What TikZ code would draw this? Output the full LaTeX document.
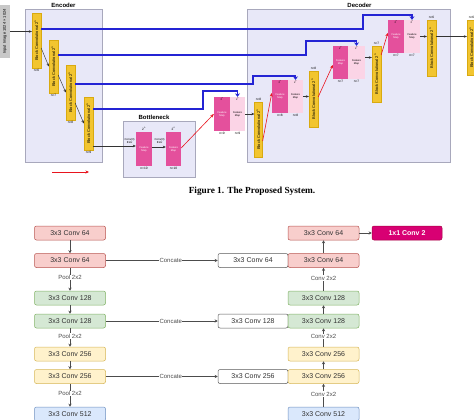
\documentclass[tikz,border=0pt]{standalone}
\usepackage{fontspec}
\setmainfont{Liberation Sans}
\newfontfamily\capfont{Liberation Serif}
\usepackage{xcolor}
\usetikzlibrary{arrows.meta}
\usetikzlibrary{shapes,arrows,positioning}

\definecolor{panelfill}{HTML}{E8E8F8}
\definecolor{panelline}{HTML}{A8A8BC}
\definecolor{blockfill}{HTML}{F2C530}
\definecolor{blockline}{HTML}{D9AA10}
\definecolor{fmdark}{HTML}{E4509C}
\definecolor{fmlight}{HTML}{FBD4E6}
\definecolor{skipblue}{HTML}{2424D4}
\definecolor{flowred}{HTML}{E8141E}
\definecolor{inputgray}{HTML}{C8C8C8}
\definecolor{redfill}{HTML}{F8CECC}
\definecolor{redline}{HTML}{B85450}
\definecolor{greenfill}{HTML}{D5E8D4}
\definecolor{greenline}{HTML}{82B366}
\definecolor{yellowfill}{HTML}{FFF2CC}
\definecolor{yellowline}{HTML}{D6B656}
\definecolor{bluefill}{HTML}{DAE8FC}
\definecolor{blueline}{HTML}{6C8EBF}
\definecolor{outfill}{HTML}{D80073}
\definecolor{outdraw}{HTML}{A50040}

\begin{document}
\begin{tikzpicture}[x=1pt, y=-1pt,
    panel/.style={draw=panelline, fill=panelfill, line width=0.5pt, inner sep=0pt},
    paneltitle/.style={font=\bfseries\fontsize{6}{7}\selectfont, inner sep=1pt},
    inputbox/.style={fill=inputgray, inner sep=0pt},
    convblock/.style={draw=blockline, fill=blockfill, line width=0.3pt, inner sep=0pt, minimum width=9pt},
    blocktext/.style={rotate=90, font=\fontsize{4}{4.5}\selectfont, inner sep=0pt},
    nlabel/.style={font=\fontsize{3.2}{3.6}\selectfont, inner sep=1pt},
    fmap/.style={inner sep=0pt, minimum width=16pt, minimum height=34pt, align=center, font=\fontsize{2.6}{3}\selectfont},
    fmdarkbox/.style={fmap, fill=fmdark, text=white},
    fmlightbox/.style={fmap, fill=fmlight, text=black},
    fmsup/.style={font=\fontsize{2.6}{3}\selectfont, inner sep=1pt, yshift=-5pt},
    convnote/.style={font=\fontsize{2.8}{3.3}\selectfont, align=center, inner sep=1pt, yshift=8pt},
    flow/.style={-{Stealth[length=3pt, width=2.6pt]}, line width=0.45pt, draw=black!80},
    upflow/.style={-{Stealth[length=3.5pt, width=3pt]}, line width=0.6pt, draw=flowred},
    skip/.style={-{Stealth[length=3.5pt, width=5pt]}, line width=1.1pt, draw=skipblue},
    unet/.style={rounded corners=2pt, minimum width=71pt, minimum height=14pt, inner sep=0pt, line width=0.5pt, text=black!80, font=\fontsize{7}{8}\selectfont},
    redconv/.style={unet, draw=redline, fill=redfill},
    greenconv/.style={unet, draw=greenline, fill=greenfill},
    yellowconv/.style={unet, draw=yellowline, fill=yellowfill},
    blueconv/.style={unet, draw=blueline, fill=bluefill},
    catconv/.style={unet, draw=black!65, fill=white, minimum width=70pt},
    finalconv/.style={unet, draw=outdraw, fill=outfill, text=white, minimum width=70pt, font=\bfseries\fontsize{7}{8}\selectfont},
    unetflow/.style={-{Stealth[length=3pt, width=3pt]}, line width=0.5pt, draw=black!70},
    flowtext/.style={font=\fontsize{6}{7}\selectfont, text=black!70, fill=white, inner sep=0.6pt}]

  % page size as in the reference
  \useasboundingbox (0,0) rectangle (474,420);
  \clip (0,0) rectangle (474,420);

  % the input image
  \node[inputbox, minimum width=10pt, minimum height=53pt] (input) at (5,31.5) {};
  \node[blocktext] (input-t) at (input) {Input Image 1024 × 1024};

  % the encoder
  \node[panel, minimum width=77pt, minimum height=153pt] (encoder) at (63.5,85.5) {};
  \node[paneltitle, above=0pt of encoder] (enctitle) {Encoder};
  \node[convblock, minimum height=55pt, label={[nlabel]below:n=6}] (e1) at (36.5,40.5) {};
  \node[convblock, minimum height=53pt, label={[nlabel]below:n=7}] (e2) at (53.5,66.5) {};
  \node[convblock, minimum height=55pt, label={[nlabel]below:n=8}] (e3) at (70.5,92.5) {};
  \node[convblock, minimum height=53pt, label={[nlabel]below:n=9}] (e4) at (88.5,123.5) {};

  % the bottleneck
  \node[panel, minimum width=72pt, minimum height=56pt] (bottleneck) at (159,149) {};
  \node[paneltitle, above=0pt of bottleneck, xshift=-5pt] (bottitle) {Bottleneck};
  \node[fmdarkbox, label={[nlabel]above:2\textsuperscript{n}}, label={[nlabel]below:n=10},
        label={[convnote]left:Conv(3)\\ELU}] (b1) at (144,149) {Feature\\Map};
  \node[fmdarkbox, minimum width=15pt, label={[nlabel]above:2\textsuperscript{n}}, label={[nlabel]below:n=10},
        label={[convnote]left:Conv(3)\\ELU}] (b2) at (173.5,149) {Feature\\Map};

  % the decoder
  \node[panel, minimum width=203pt, minimum height=153pt] (decoder) at (348.5,85.5) {};
  \node[paneltitle, above=0pt of decoder, xshift=11pt] (dectitle) {Decoder};
  \node[fmdarkbox, label={[fmsup]north:2\textsuperscript{n}}, label={[nlabel]below:n=9}] (f1) at (222,114) {Feature\\Map};
  \node[fmlightbox, minimum width=15pt, label={[fmsup]north:2\textsuperscript{n}}, label={[nlabel]below:n=9}] (g1) at (237.5,114) {Feature\\Map};
  \node[convblock, minimum width=8pt, minimum height=55pt, label={[nlabel]above:n=8}] (d1) at (258.5,129.5) {};
  \node[fmdarkbox, minimum height=33pt, label={[fmsup]north:2\textsuperscript{n}}, label={[nlabel]below:n=8}] (f2) at (280,96.5) {Feature\\Map};
  \node[fmlightbox, minimum width=15pt, minimum height=33pt, label={[fmsup]north:2\textsuperscript{n}}, label={[nlabel]below:n=8}] (g2) at (295.5,96.5) {Feature\\Map};
  \node[convblock, minimum height=56pt, label={[nlabel]above:n=8}] (d2) at (313.5,99) {};
  \node[fmdarkbox, minimum width=15pt, minimum height=33pt, label={[fmsup]north:2\textsuperscript{n}}, label={[nlabel]below:n=7}] (f3) at (340.5,62.5) {Feature\\Map};
  \node[fmlightbox, minimum width=17pt, minimum height=33pt, label={[fmsup]north:2\textsuperscript{n}}, label={[nlabel]below:n=7}] (g3) at (356.5,62.5) {Feature\\Map};
  \node[convblock, minimum height=56pt, label={[nlabel]above:n=7}] (d3) at (376.5,74) {};
  \node[fmdarkbox, minimum height=33pt, label={[fmsup]north:2\textsuperscript{n}}, label={[nlabel]below:n=7}] (f4) at (396,36.5) {Feature\\Map};
  \node[fmlightbox, minimum height=33pt, label={[fmsup]north:2\textsuperscript{n}}, label={[nlabel]below:n=7}] (g4) at (412,36.5) {Feature\\Map};
  \node[convblock, minimum height=56pt, label={[nlabel]above:n=6}] (d4) at (431.5,48) {};
  \node[convblock, minimum height=55pt, label={[nlabel]above:n=6}] (out) at (471.5,47.5) {};

  % text of the convolution blocks
  \foreach \b in {e1,e2,e3,e4,d1,d2,d3,d4,out}
    \node[blocktext] (\b-t) at (\b) {Block Convolutional 2\textsuperscript{n}};

  % arrows of the encoder and bottleneck
  \draw[flow] (input.east) -- (input.east -| e1.west);
  \draw[flow] ([yshift=-7.5pt]e1.east) -- (e2.west);
  \draw[flow] ([yshift=-8.5pt]e2.east) -- (e3.west);
  \draw[flow] ([yshift=-10.5pt]e3.east) -- (e4.west);
  \draw[flow] ([yshift=3pt]e4.east |- b1.west) -- ([yshift=3pt]b1.west);
  \draw[flow] ([yshift=2pt]b1.east) -- ([yshift=2pt]b2.west);

  % arrows of the decoder
  \draw[upflow] ([yshift=1pt]b2.east) -- (f1.west);
  \draw[flow] (g1.east) -- (g1.east -| d1.west);
  \draw[upflow] ([yshift=-11.5pt]d1.east) -- ([yshift=3.5pt]f2.west);
  \draw[flow] (g2.east) -- (g2.east -| d2.west);
  \draw[upflow] ([yshift=2pt]d2.east) -- ([yshift=-2.5pt]f3.west);
  \draw[flow] ([yshift=5pt]g3.east) -- ([yshift=5pt]g3.east -| d3.west);
  \draw[upflow] ([yshift=19pt]d3.east) -- ([yshift=3.5pt]f4.west);
  \draw[flow] (g4.east) -- (g4.east -| d4.west);
  \draw[flow] (g4.east -| d4.east) -- (g4.east -| out.west);

  % skip connections
  \draw[skip] ([yshift=11.5pt]e1.east) -| (363,15) -| (g4.north);
  \draw[skip] ([yshift=11.5pt]e2.east) -| (306,41) -| (g3.north);
  \draw[skip] ([yshift=8.5pt]e3.east) -| (253,76) -| (g2.north);
  \draw[skip] ([yshift=14.5pt]e4.east) -| (203,91) -| (g1.north);

  % the red arrow under the encoder
  \coordinate (legstart) at (52,172);
  \coordinate (legend) at (89,172);
  \draw[upflow] (legstart) -- (legend);

  % caption
  \node[font=\capfont\bfseries\fontsize{9.3}{11}\selectfont] (caption) at (252,191) {Figure 1. The Proposed System.};

  % ---------- the second diagram ----------
  % contracting path
  \node[redconv] (l1) at (70,233) {3x3 Conv 64};
  \node[redconv] (l2) at (70,260.5) {3x3 Conv 64};
  \node[greenconv] (l3) at (70,298) {3x3 Conv 128};
  \node[greenconv] (l4) at (70,321) {3x3 Conv 128};
  \node[yellowconv] (l5) at (70,354) {3x3 Conv 256};
  \node[yellowconv] (l6) at (70,376.5) {3x3 Conv 256};
  \node[blueconv] (l7) at (70,414) {3x3 Conv 512};

  % concatenated copies
  \node[catconv] (m2) at (253,260.5) {3x3 Conv 64};
  \node[catconv] (m4) at (253,321) {3x3 Conv 128};
  \node[catconv] (m6) at (253,376.5) {3x3 Conv 256};

  % expanding path
  \node[redconv] (r1) at (323.5,233) {3x3 Conv 64};
  \node[redconv] (r2) at (323.5,260.5) {3x3 Conv 64};
  \node[greenconv] (r3) at (323.5,298) {3x3 Conv 128};
  \node[greenconv] (r4) at (323.5,321) {3x3 Conv 128};
  \node[yellowconv] (r5) at (323.5,354) {3x3 Conv 256};
  \node[yellowconv] (r6) at (323.5,376.5) {3x3 Conv 256};
  \node[blueconv] (r7) at (323.5,414) {3x3 Conv 512};
  \node[finalconv] (final) at (407,233) {1x1 Conv 2};

  % the arrows and labels
  \foreach \a/\b in {l1/l2, l3/l4, l5/l6, r2/r1, r4/r3, r6/r5, r1/final}
    \draw[unetflow] (\a) -- (\b);
  \foreach \a/\b in {l2/l3, l4/l5, l6/l7}
    \draw[unetflow] (\a) -- node[flowtext, pos=0.42] {Pool 2x2} (\b);
  \foreach \a/\b in {r3/r2, r5/r4, r7/r6}
    \draw[unetflow] (\a) -- node[flowtext, pos=0.55] {Conv 2x2} (\b);
  \foreach \a/\b in {l2/m2, l4/m4, l6/m6}
    \draw[unetflow] (\a) -- node[flowtext, pos=0.58] {Concate} (\b);
\end{tikzpicture}
\end{document}
